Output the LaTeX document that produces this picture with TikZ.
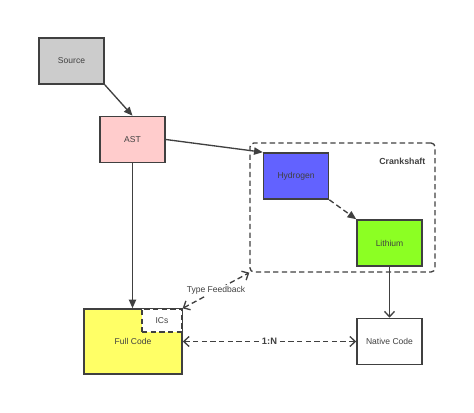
\documentclass[tikz,border=0pt]{standalone}
\usepackage{fontspec}
\setmainfont{Liberation Sans}
\usetikzlibrary{arrows.meta}
\definecolor{srcgray}{RGB}{204,204,204}
\definecolor{astpink}{RGB}{255,204,204}
\definecolor{hydroblue}{RGB}{98,98,255}
\definecolor{lithgreen}{RGB}{140,255,35}
\definecolor{fullyellow}{RGB}{255,255,102}
\definecolor{inkgray}{RGB}{64,64,64}

\begin{document}
\begin{tikzpicture}[x=0.75pt,y=-0.75pt,
		every node/.style={font=\fontsize{6.4}{7.5}\selectfont,text=inkgray},
		box/.style={draw=inkgray,line width=1.2pt,inner sep=0pt,
			minimum width=48.75pt,minimum height=34.5pt},
		link/.style={draw=inkgray,line width=1pt,-{Triangle[length=6.5pt,width=5.5pt]}},
		openlink/.style={draw=inkgray,line width=1pt,-{Straight Barb[length=4pt,width=7.5pt]}},
		dashlink/.style={dash pattern=on 4pt off 2.5pt},
		tag/.style={fill=white,inner sep=1pt}]
		\useasboundingbox (0,0) rectangle (474,413);
		% boxes
		\node[box,fill=srcgray] (source) at (71.5,61) {Source};
		\node[box,fill=astpink] (ast) at (132.5,139.5) {AST};
		\node[draw=inkgray,line width=1pt,dashlink,rounded corners=3pt,
			minimum width=138.75pt,minimum height=96.75pt] (crank) at (342.5,207.5) {};
		\node[anchor=east,font=\fontsize{6.6}{8}\selectfont\bfseries] (crankname) at (430,161) {Crankshaft};
		\node[box,fill=hydroblue] (hydrogen) at (296,176) {Hydrogen};
		\node[box,fill=lithgreen] (lithium) at (389.5,243) {Lithium};
		\node[box,fill=fullyellow,minimum width=73.5pt,minimum height=48.75pt] (full) at (133,341.5) {Full Code};
		\node[draw=inkgray,line width=1pt,dashlink,fill=white,inner sep=0pt,
			minimum width=30pt,minimum height=17.25pt] (ics) at (162,320.5) {ICs};
		\node[box,fill=white] (native) at (389.5,341.5) {Native Code};
		% links
		\draw[link] (source.south east) -- (ast.north);
		\draw[link] (ast.east) -- (hydrogen.north west);
		\draw[link] (ast.south) -- (ast.south |- full.north);
		\draw[link,dashlink] (hydrogen.south east) -- (lithium.north west);
		\draw[openlink] (lithium.south) -- (native.north);
		\draw[openlink,dashlink,{Straight Barb[length=4pt,width=7.5pt]}-{Straight Barb[length=4pt,width=7.5pt]}]
			(full.east) -- node[tag,font=\fontsize{7}{8}\selectfont\bfseries] (ratio) {1:N} (native.west);
		\draw[openlink,dashlink,{Straight Barb[length=4pt,width=7.5pt]}-{Straight Barb[length=4pt,width=7.5pt]}]
			(ics.north east) -- node[tag] (feedback) {Type Feedback} (crank.south west);
\end{tikzpicture}
\end{document}
